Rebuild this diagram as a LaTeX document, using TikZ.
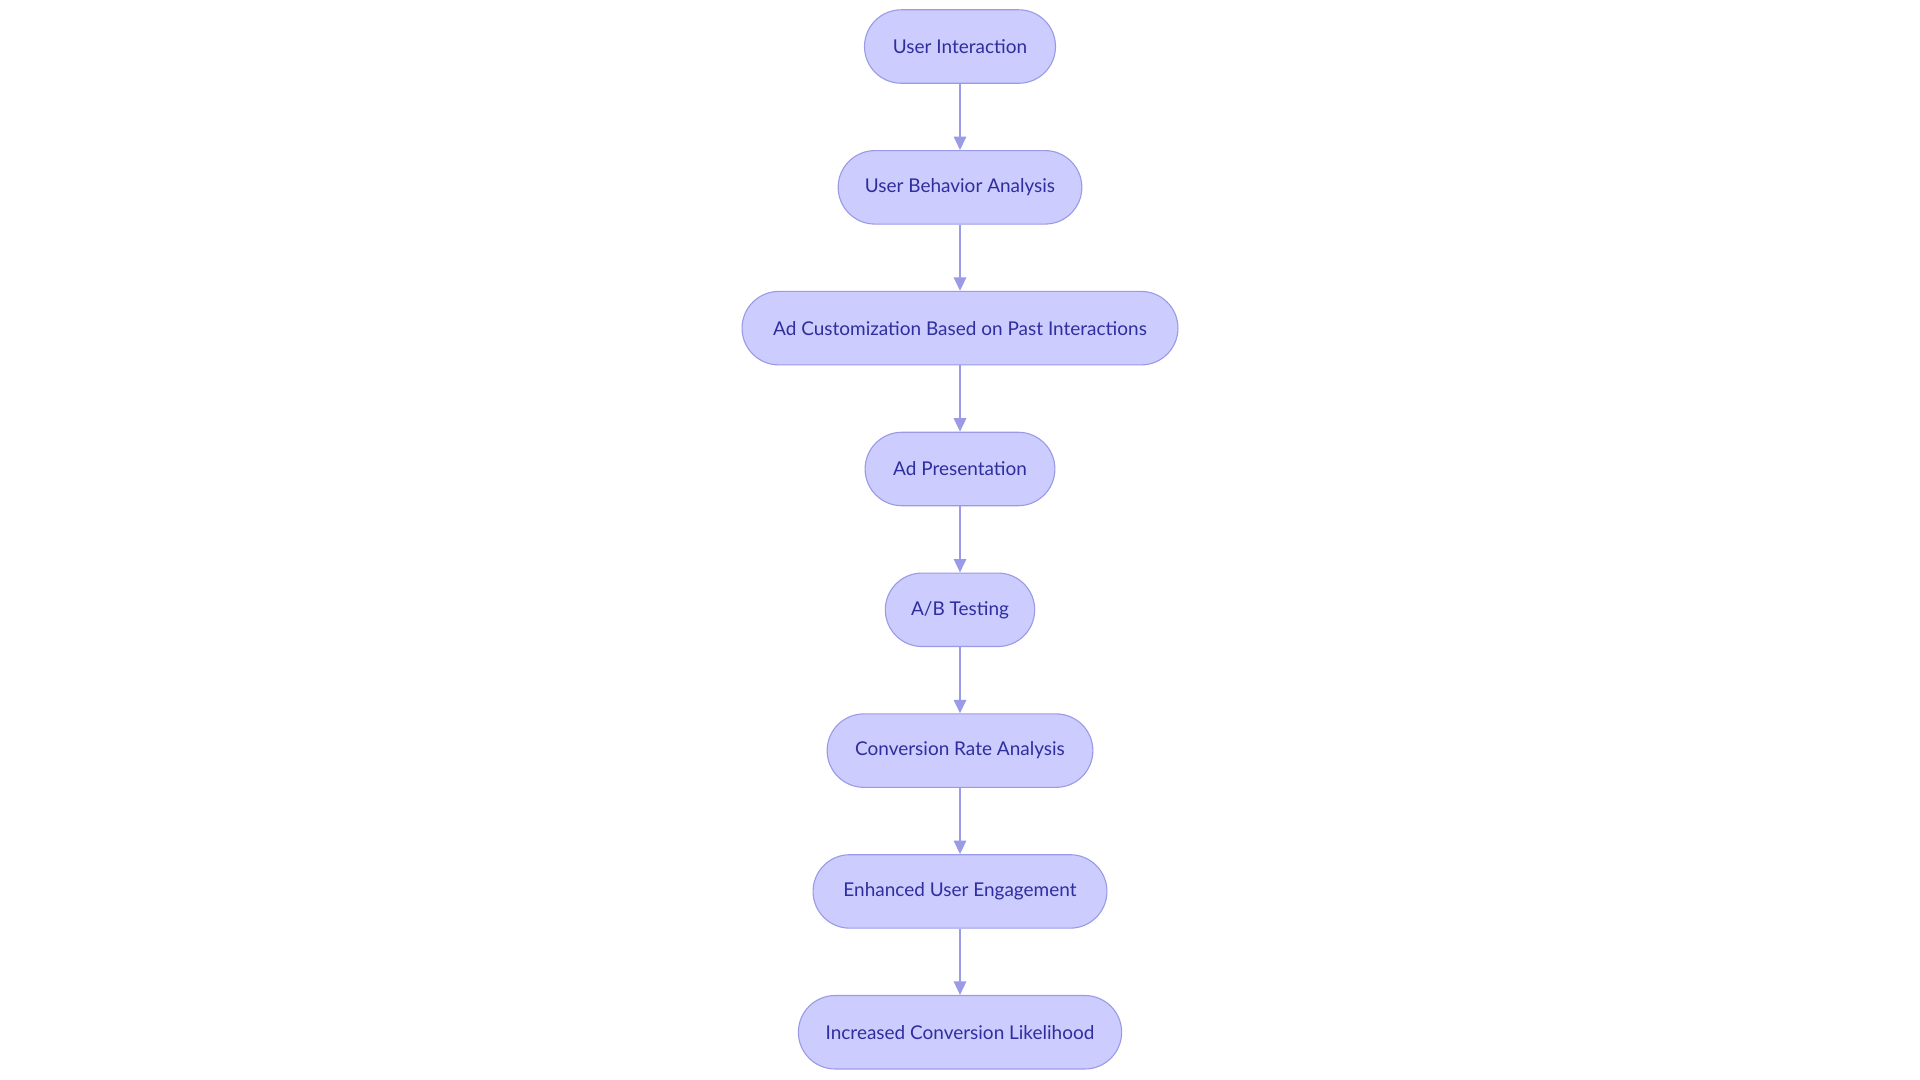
\documentclass[tikz,border=0pt]{standalone}
\usepackage{fontspec}
\setmainfont{Lato}
\usetikzlibrary{arrows.meta}
\definecolor{nfill}{HTML}{CCCCFF}
\definecolor{ndraw}{HTML}{9A9AE6}
\definecolor{ntext}{HTML}{2E2E9E}
\definecolor{arr}{HTML}{9A9AE6}
\tikzset{
  pill/.style={draw=ndraw, fill=nfill, text=ntext, rounded corners=30pt, minimum height=60pt, inner sep=0pt, font=\fontsize{15.5}{18}\selectfont, line width=0.9pt},
  conn/.style={draw=arr, line width=1.8pt, -{Triangle[length=11pt,width=10pt]}}
}
\begin{document}
\begin{tikzpicture}[x=1pt,y=-1pt]
\useasboundingbox (0,0) rectangle (1568,882);
\node[pill, minimum width=156pt] (a) at (784,38) {User Interaction};
\node[pill, minimum width=199pt] (b) at (784,153) {User Behavior Analysis};
\node[pill, minimum width=356pt] (c) at (784,268) {Ad Customization Based on Past Interactions};
\node[pill, minimum width=155pt] (d) at (784,383) {Ad Presentation};
\node[pill, minimum width=122pt] (e) at (784,498) {A/B Testing};
\node[pill, minimum width=217pt] (f) at (784,613) {Conversion Rate Analysis};
\node[pill, minimum width=240pt] (g) at (784,728) {Enhanced User Engagement};
\node[pill, minimum width=264pt] (h) at (784,843) {Increased Conversion Likelihood};
\foreach \s/\t in {a/b,b/c,c/d,d/e,e/f,f/g,g/h} \draw[conn] (\s) -- (\t);
\end{tikzpicture}
\end{document}
